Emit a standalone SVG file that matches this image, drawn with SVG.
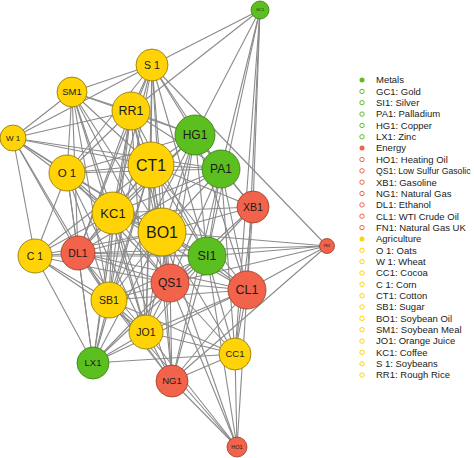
<svg xmlns="http://www.w3.org/2000/svg" width="474" height="458" viewBox="0 0 474 458">
<style>
.e line{stroke:#8a8a8a;stroke-width:1.1}
.y{fill:#FFD306;stroke:#8a7300;stroke-width:0.8}
.g{fill:#5CBF20;stroke:#3a7a12;stroke-width:0.8}
.r{fill:#F2634B;stroke:#9a3a26;stroke-width:0.8}
.n text{font-family:"Liberation Sans",Arial,sans-serif;text-anchor:middle;fill:#1a1a1a}
.lg text{font-family:"Liberation Sans",Arial,sans-serif;font-size:9.5px;fill:#222}
.lg .mg{fill:#5CBF20}
.lg .mr{fill:#F2634B}
.lg .my{fill:#FFD306}
.lg .hg{fill:none;stroke:#5CBF20;stroke-width:1}
.lg .hr{fill:none;stroke:#F2634B;stroke-width:1}
.lg .hy{fill:none;stroke:#FFD306;stroke-width:1}
</style>
<rect width="474" height="458" fill="#fff"/>
<g id="connectors" class="e">
<!-- GC1 -->
<line x1="260" y1="10" x2="152" y2="65"/><line x1="260" y1="10" x2="131" y2="111"/><line x1="260" y1="10" x2="195" y2="135"/><line x1="260" y1="10" x2="221" y2="169"/><line x1="260" y1="10" x2="207" y2="256"/><line x1="260" y1="10" x2="253" y2="207"/><line x1="260" y1="10" x2="247" y2="290"/><line x1="260" y1="10" x2="235" y2="354"/>
<!-- S1 -->
<line x1="152" y1="65" x2="72" y2="92"/><line x1="152" y1="65" x2="13" y2="138"/><line x1="152" y1="65" x2="131" y2="111"/><line x1="152" y1="65" x2="151" y2="165"/><line x1="152" y1="65" x2="195" y2="135"/><line x1="152" y1="65" x2="221" y2="169"/><line x1="152" y1="65" x2="67" y2="173"/><line x1="152" y1="65" x2="113" y2="213"/><line x1="152" y1="65" x2="162" y2="232"/><line x1="152" y1="65" x2="207" y2="256"/><line x1="152" y1="65" x2="170" y2="283"/><line x1="152" y1="65" x2="327" y2="246"/><line x1="152" y1="65" x2="78" y2="253"/><line x1="152" y1="65" x2="109" y2="300"/><line x1="152" y1="65" x2="146" y2="332"/>
<!-- SM1 -->
<line x1="72" y1="92" x2="13" y2="138"/><line x1="72" y1="92" x2="131" y2="111"/><line x1="72" y1="92" x2="67" y2="173"/><line x1="72" y1="92" x2="151" y2="165"/><line x1="72" y1="92" x2="113" y2="213"/><line x1="72" y1="92" x2="162" y2="232"/><line x1="72" y1="92" x2="78" y2="253"/><line x1="72" y1="92" x2="109" y2="300"/><line x1="72" y1="92" x2="146" y2="332"/><line x1="72" y1="92" x2="195" y2="135"/><line x1="72" y1="92" x2="170" y2="283"/>
<!-- W1 -->
<line x1="13" y1="138" x2="131" y2="111"/><line x1="13" y1="138" x2="67" y2="173"/><line x1="13" y1="138" x2="151" y2="165"/><line x1="13" y1="138" x2="113" y2="213"/><line x1="13" y1="138" x2="35" y2="256"/><line x1="13" y1="138" x2="78" y2="253"/><line x1="13" y1="138" x2="109" y2="300"/><line x1="13" y1="138" x2="162" y2="232"/><line x1="13" y1="138" x2="221" y2="169"/>
<!-- RR1 -->
<line x1="131" y1="111" x2="151" y2="165"/><line x1="131" y1="111" x2="195" y2="135"/><line x1="131" y1="111" x2="67" y2="173"/><line x1="131" y1="111" x2="113" y2="213"/><line x1="131" y1="111" x2="162" y2="232"/><line x1="131" y1="111" x2="78" y2="253"/><line x1="131" y1="111" x2="109" y2="300"/><line x1="131" y1="111" x2="170" y2="283"/><line x1="131" y1="111" x2="146" y2="332"/><line x1="131" y1="111" x2="207" y2="256"/><line x1="131" y1="111" x2="221" y2="169"/><line x1="131" y1="111" x2="93" y2="363"/>
<!-- HG1 -->
<line x1="195" y1="135" x2="151" y2="165"/><line x1="195" y1="135" x2="221" y2="169"/><line x1="195" y1="135" x2="67" y2="173"/><line x1="195" y1="135" x2="113" y2="213"/><line x1="195" y1="135" x2="162" y2="232"/><line x1="195" y1="135" x2="207" y2="256"/><line x1="195" y1="135" x2="170" y2="283"/><line x1="195" y1="135" x2="247" y2="290"/><line x1="195" y1="135" x2="253" y2="207"/><line x1="195" y1="135" x2="78" y2="253"/><line x1="195" y1="135" x2="109" y2="300"/><line x1="195" y1="135" x2="146" y2="332"/>
<!-- O1 -->
<line x1="67" y1="173" x2="151" y2="165"/><line x1="67" y1="173" x2="113" y2="213"/><line x1="67" y1="173" x2="162" y2="232"/><line x1="67" y1="173" x2="35" y2="256"/><line x1="67" y1="173" x2="78" y2="253"/><line x1="67" y1="173" x2="109" y2="300"/><line x1="67" y1="173" x2="146" y2="332"/><line x1="67" y1="173" x2="93" y2="363"/><line x1="67" y1="173" x2="170" y2="283"/><line x1="67" y1="173" x2="221" y2="169"/>
<!-- CT1 -->
<line x1="151" y1="165" x2="221" y2="169"/><line x1="151" y1="165" x2="113" y2="213"/><line x1="151" y1="165" x2="162" y2="232"/><line x1="151" y1="165" x2="78" y2="253"/><line x1="151" y1="165" x2="207" y2="256"/><line x1="151" y1="165" x2="170" y2="283"/><line x1="151" y1="165" x2="109" y2="300"/><line x1="151" y1="165" x2="146" y2="332"/><line x1="151" y1="165" x2="247" y2="290"/><line x1="151" y1="165" x2="35" y2="256"/><line x1="151" y1="165" x2="93" y2="363"/><line x1="151" y1="165" x2="172" y2="381"/><line x1="151" y1="165" x2="253" y2="207"/>
<!-- PA1 -->
<line x1="221" y1="169" x2="253" y2="207"/><line x1="221" y1="169" x2="207" y2="256"/><line x1="221" y1="169" x2="162" y2="232"/><line x1="221" y1="169" x2="170" y2="283"/><line x1="221" y1="169" x2="247" y2="290"/><line x1="221" y1="169" x2="113" y2="213"/><line x1="221" y1="169" x2="235" y2="354"/><line x1="221" y1="169" x2="172" y2="381"/><line x1="221" y1="169" x2="78" y2="253"/>
<!-- XB1 -->
<line x1="253" y1="207" x2="207" y2="256"/><line x1="253" y1="207" x2="247" y2="290"/><line x1="253" y1="207" x2="162" y2="232"/><line x1="253" y1="207" x2="170" y2="283"/><line x1="253" y1="207" x2="235" y2="354"/><line x1="253" y1="207" x2="113" y2="213"/>
<!-- KC1 -->
<line x1="113" y1="213" x2="162" y2="232"/><line x1="113" y1="213" x2="35" y2="256"/><line x1="113" y1="213" x2="78" y2="253"/><line x1="113" y1="213" x2="207" y2="256"/><line x1="113" y1="213" x2="170" y2="283"/><line x1="113" y1="213" x2="109" y2="300"/><line x1="113" y1="213" x2="146" y2="332"/><line x1="113" y1="213" x2="247" y2="290"/><line x1="113" y1="213" x2="93" y2="363"/><line x1="113" y1="213" x2="172" y2="381"/>
<!-- BO1 -->
<line x1="162" y1="232" x2="35" y2="256"/><line x1="162" y1="232" x2="78" y2="253"/><line x1="162" y1="232" x2="207" y2="256"/><line x1="162" y1="232" x2="170" y2="283"/><line x1="162" y1="232" x2="247" y2="290"/><line x1="162" y1="232" x2="109" y2="300"/><line x1="162" y1="232" x2="146" y2="332"/><line x1="162" y1="232" x2="93" y2="363"/><line x1="162" y1="232" x2="172" y2="381"/><line x1="162" y1="232" x2="235" y2="354"/><line x1="162" y1="232" x2="327" y2="246"/><line x1="162" y1="232" x2="237" y2="447"/>
<!-- C1 -->
<line x1="35" y1="256" x2="78" y2="253"/><line x1="35" y1="256" x2="109" y2="300"/><line x1="35" y1="256" x2="93" y2="363"/><line x1="35" y1="256" x2="170" y2="283"/><line x1="35" y1="256" x2="146" y2="332"/><line x1="35" y1="256" x2="207" y2="256"/>
<!-- DL1 -->
<line x1="78" y1="253" x2="109" y2="300"/><line x1="78" y1="253" x2="93" y2="363"/><line x1="78" y1="253" x2="170" y2="283"/><line x1="78" y1="253" x2="207" y2="256"/><line x1="78" y1="253" x2="247" y2="290"/><line x1="78" y1="253" x2="146" y2="332"/><line x1="78" y1="253" x2="172" y2="381"/><line x1="78" y1="253" x2="327" y2="246"/>
<!-- SI1 -->
<line x1="207" y1="256" x2="170" y2="283"/><line x1="207" y1="256" x2="247" y2="290"/><line x1="207" y1="256" x2="109" y2="300"/><line x1="207" y1="256" x2="146" y2="332"/><line x1="207" y1="256" x2="235" y2="354"/><line x1="207" y1="256" x2="172" y2="381"/><line x1="207" y1="256" x2="93" y2="363"/><line x1="207" y1="256" x2="327" y2="246"/><line x1="207" y1="256" x2="237" y2="447"/>
<!-- QS1 -->
<line x1="170" y1="283" x2="247" y2="290"/><line x1="170" y1="283" x2="109" y2="300"/><line x1="170" y1="283" x2="146" y2="332"/><line x1="170" y1="283" x2="235" y2="354"/><line x1="170" y1="283" x2="172" y2="381"/><line x1="170" y1="283" x2="93" y2="363"/><line x1="170" y1="283" x2="327" y2="246"/><line x1="170" y1="283" x2="237" y2="447"/>
<!-- CL1 -->
<line x1="247" y1="290" x2="109" y2="300"/><line x1="247" y1="290" x2="146" y2="332"/><line x1="247" y1="290" x2="235" y2="354"/><line x1="247" y1="290" x2="172" y2="381"/><line x1="247" y1="290" x2="93" y2="363"/><line x1="247" y1="290" x2="327" y2="246"/><line x1="247" y1="290" x2="237" y2="447"/>
<!-- SB1 -->
<line x1="109" y1="300" x2="146" y2="332"/><line x1="109" y1="300" x2="93" y2="363"/><line x1="109" y1="300" x2="172" y2="381"/><line x1="109" y1="300" x2="235" y2="354"/><line x1="109" y1="300" x2="237" y2="447"/>
<!-- JO1 -->
<line x1="146" y1="332" x2="93" y2="363"/><line x1="146" y1="332" x2="172" y2="381"/><line x1="146" y1="332" x2="235" y2="354"/><line x1="146" y1="332" x2="237" y2="447"/>
<!-- CC1, LX1, NG1, FN1 -->
<line x1="235" y1="354" x2="93" y2="363"/><line x1="235" y1="354" x2="172" y2="381"/><line x1="235" y1="354" x2="237" y2="447"/>
<line x1="172" y1="381" x2="237" y2="447"/><line x1="327" y1="246" x2="172" y2="381"/>
</g>
<g class="n">
<g id="n-GC1"><circle class="g" cx="260" cy="10" r="9"/><text x="260" y="10" dy="0.35em" font-size="4">GC1</text></g>
<g id="n-S1"><circle class="y" cx="152" cy="65" r="16"/><text x="152" y="65" dy="0.35em" font-size="10.5">S 1</text></g>
<g id="n-SM1"><circle class="y" cx="72" cy="92" r="15"/><text x="72" y="92" dy="0.35em" font-size="9.5">SM1</text></g>
<g id="n-RR1"><circle class="y" cx="131" cy="111" r="19"/><text x="131" y="111" dy="0.35em" font-size="12.5">RR1</text></g>
<g id="n-W1"><circle class="y" cx="13" cy="138" r="13"/><text x="13" y="138" dy="0.35em" font-size="8">W 1</text></g>
<g id="n-HG1"><circle class="g" cx="195" cy="135" r="20"/><text x="195" y="135" dy="0.35em" font-size="12">HG1</text></g>
<g id="n-O1"><circle class="y" cx="67" cy="173" r="18"/><text x="67" y="173" dy="0.35em" font-size="11.5">O 1</text></g>
<g id="n-CT1"><circle class="y" cx="151" cy="165" r="23"/><text x="151" y="165" dy="0.35em" font-size="16">CT1</text></g>
<g id="n-PA1"><circle class="g" cx="221" cy="169" r="19"/><text x="221" y="169" dy="0.35em" font-size="12">PA1</text></g>
<g id="n-XB1"><circle class="r" cx="253" cy="207" r="16"/><text x="253" y="207" dy="0.35em" font-size="10.5">XB1</text></g>
<g id="n-KC1"><circle class="y" cx="113" cy="213" r="21"/><text x="113" y="213" dy="0.35em" font-size="13">KC1</text></g>
<g id="n-BO1"><circle class="y" cx="162" cy="232" r="24"/><text x="162" y="232" dy="0.35em" font-size="16">BO1</text></g>
<g id="n-C1"><circle class="y" cx="35" cy="256" r="17"/><text x="35" y="256" dy="0.35em" font-size="10.5">C 1</text></g>
<g id="n-DL1"><circle class="r" cx="78" cy="253" r="17"/><text x="78" y="253" dy="0.35em" font-size="10.5">DL1</text></g>
<g id="n-SI1"><circle class="g" cx="207" cy="256" r="19"/><text x="207" y="256" dy="0.35em" font-size="12.5">SI1</text></g>
<g id="n-QS1"><circle class="r" cx="170" cy="283" r="19"/><text x="170" y="283" dy="0.35em" font-size="12">QS1</text></g>
<g id="n-CL1"><circle class="r" cx="247" cy="290" r="19"/><text x="247" y="290" dy="0.35em" font-size="12.5">CL1</text></g>
<g id="n-FN1"><circle class="r" cx="327" cy="246" r="7.5"/><text x="327" y="246" dy="0.35em" font-size="3.5">FN1</text></g>
<g id="n-SB1"><circle class="y" cx="109" cy="300" r="18"/><text x="109" y="300" dy="0.35em" font-size="10.5">SB1</text></g>
<g id="n-JO1"><circle class="y" cx="146" cy="332" r="17"/><text x="146" y="332" dy="0.35em" font-size="10.5">JO1</text></g>
<g id="n-CC1"><circle class="y" cx="235" cy="354" r="16"/><text x="235" y="354" dy="0.35em" font-size="9.5">CC1</text></g>
<g id="n-LX1"><circle class="g" cx="93" cy="363" r="16"/><text x="93" y="363" dy="0.35em" font-size="9.5">LX1</text></g>
<g id="n-NG1"><circle class="r" cx="172" cy="381" r="16"/><text x="172" y="381" dy="0.35em" font-size="9.5">NG1</text></g>
<g id="n-HO1"><circle class="r" cx="237" cy="447" r="10"/><text x="237" y="447" dy="0.35em" font-size="5.5">HO1</text></g>
</g>
<g id="legend" class="lg">
<circle class="mg" cx="362" cy="80" r="2.5"/><text x="376" y="83.3">Metals</text>
<circle class="hg" cx="362" cy="91.4" r="2.2"/><text x="376" y="94.7">GC1: Gold</text>
<circle class="hg" cx="362" cy="102.7" r="2.2"/><text x="376" y="106">SI1: Silver</text>
<circle class="hg" cx="362" cy="114.1" r="2.2"/><text x="376" y="117.4">PA1: Palladium</text>
<circle class="hg" cx="362" cy="125.4" r="2.2"/><text x="376" y="128.7">HG1: Copper</text>
<circle class="hg" cx="362" cy="136.8" r="2.2"/><text x="376" y="140.1">LX1: Zinc</text>
<circle class="mr" cx="362" cy="148.1" r="2.5"/><text x="376" y="151.4">Energy</text>
<circle class="hr" cx="362" cy="159.5" r="2.2"/><text x="376" y="162.8">HO1: Heating Oil</text>
<circle class="hr" cx="362" cy="170.8" r="2.2"/><text x="376" y="174" style="font-size:8.7px">QS1: Low Sulfur Gasolic</text>
<circle class="hr" cx="362" cy="182.2" r="2.2"/><text x="376" y="185.5">XB1: Gasoline</text>
<circle class="hr" cx="362" cy="193.5" r="2.2"/><text x="376" y="196.8">NG1: Natural Gas</text>
<circle class="hr" cx="362" cy="204.9" r="2.2"/><text x="376" y="208.2">DL1: Ethanol</text>
<circle class="hr" cx="362" cy="216.2" r="2.2"/><text x="376" y="219.5">CL1: WTI Crude Oil</text>
<circle class="hr" cx="362" cy="227.6" r="2.2"/><text x="376" y="230.9">FN1: Natural Gas UK</text>
<circle class="my" cx="362" cy="238.9" r="2.5"/><text x="376" y="242.2">Agriculture</text>
<circle class="hy" cx="362" cy="250.3" r="2.2"/><text x="376" y="253.6">O 1: Oats</text>
<circle class="hy" cx="362" cy="261.6" r="2.2"/><text x="376" y="264.9">W 1: Wheat</text>
<circle class="hy" cx="362" cy="273" r="2.2"/><text x="376" y="276.3">CC1: Cocoa</text>
<circle class="hy" cx="362" cy="284.3" r="2.2"/><text x="376" y="287.6">C 1: Corn</text>
<circle class="hy" cx="362" cy="295.7" r="2.2"/><text x="376" y="299">CT1: Cotton</text>
<circle class="hy" cx="362" cy="307" r="2.2"/><text x="376" y="310.3">SB1: Sugar</text>
<circle class="hy" cx="362" cy="318.4" r="2.2"/><text x="376" y="321.7">BO1: Soybean Oil</text>
<circle class="hy" cx="362" cy="329.7" r="2.2"/><text x="376" y="333">SM1: Soybean Meal</text>
<circle class="hy" cx="362" cy="341.1" r="2.2"/><text x="376" y="344.4">JO1: Orange Juice</text>
<circle class="hy" cx="362" cy="352.4" r="2.2"/><text x="376" y="355.7">KC1: Coffee</text>
<circle class="hy" cx="362" cy="363.8" r="2.2"/><text x="376" y="367.1">S 1: Soybeans</text>
<circle class="hy" cx="362" cy="375.1" r="2.2"/><text x="376" y="378.4">RR1: Rough Rice</text>
</g>
</svg>
